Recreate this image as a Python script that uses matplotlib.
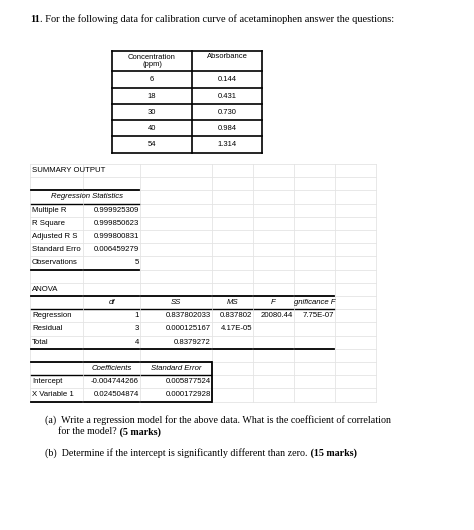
import matplotlib.pyplot as plt

conc = ["6", "18", "30", "40", "54"]
absorb = ["0.144", "0.431", "0.730", "0.984", "1.314"]

reg_labels = ["Multiple R", "R Square", "Adjusted R S", "Standard Erro", "Observations"]
reg_values = ["0.999925309", "0.999850623", "0.999800831", "0.006459279", "5"]

anova_cols = ["df", "SS", "MS", "F", "gnificance F"]
anova_rows = ["Regression", "Residual", "Total"]
anova_vals = [["1", "0.837802033", "0.837802", "20080.44", "7.75E-07"],
              ["3", "0.000125167", "4.17E-05", "", ""],
              ["4", "0.8379272", "", "", ""]]

coef_cols = ["Coefficients", "Standard Error"]
coef_rows = ["Intercept", "X Variable 1"]
coef_vals = [["-0.004744266", "0.005877524"], ["0.024504874", "0.000172928"]]

fig = plt.figure(figsize=(4.74, 5.30), dpi=100)
ax = fig.add_axes([0, 0, 1, 1])
ax.set_xlim(0, 474)
ax.set_ylim(530, 0)
ax.axis("off")

serif = "Liberation Serif"
sans = "Liberation Sans"


def after(prev, s, **kw):
    # place text right after a previous text
    return ax.annotate(s, xy=(1, 0.5), xycoords=prev, va="center", ha="left", **kw)


t = ax.text(30, 19, "11", fontsize=7.5, family=serif, weight="bold", va="center")
after(t, ". For the following data for calibration curve of acetaminophen answer the questions:",
      fontsize=7.5, family=serif)

# data table
tx = [112, 192, 262]
ty = [51, 71, 88, 104, 120, 136, 153]
for y in ty:
    ax.plot([tx[0], tx[2]], [y, y], color="k", lw=1.2)
for x in tx:
    ax.plot([x, x], [ty[0], ty[-1]], color="k", lw=1.2)
ax.text(152, 61, "Concentration\n(ppm)", ha="center", va="center", fontsize=5.5, family=sans, linespacing=0.9)
ax.text(227, 57, "Absorbance", ha="center", va="center", fontsize=5.5, family=sans)
for i in range(len(conc)):
    yc = (ty[i + 1] + ty[i + 2]) / 2
    ax.text(152, yc, conc[i], ha="center", va="center", fontsize=5.5, family=sans)
    ax.text(227, yc, absorb[i], ha="center", va="center", fontsize=5.5, family=sans)

# spreadsheet grid
gx = [30, 83, 140, 212, 253, 294, 335, 376]
row_h = 13.2
y0 = 164
nrows = 18
for i in range(nrows + 1):
    ax.plot([gx[0], gx[-1]], [y0 + i * row_h, y0 + i * row_h], color="#e4e4e4", lw=0.6)
for x in gx:
    ax.plot([x, x], [y0, y0 + nrows * row_h], color="#e4e4e4", lw=0.6)


def rc(r):
    return y0 + (r + 0.5) * row_h


def rt(r):
    return y0 + r * row_h


fs = 5.6
ax.text(32, rc(0), "SUMMARY OUTPUT", fontsize=fs, family=sans, va="center")


def hline(r, c0, c1, lw=1.3):
    for c in range(c0, c1):
        ax.plot([gx[c] + 1, gx[c + 1] - 1], [rt(r), rt(r)], color="k", lw=lw)


hline(2, 0, 2)
ax.text(87, rc(2), "Regression Statistics", fontsize=fs, family=sans, style="italic", ha="center", va="center")
hline(3, 0, 2, lw=1.0)
for i, (l, v) in enumerate(zip(reg_labels, reg_values)):
    ax.text(32, rc(3 + i), l, fontsize=fs, family=sans, va="center")
    ax.text(139, rc(3 + i), v, fontsize=fs, family=sans, va="center", ha="right")
hline(8, 0, 2)

ax.text(32, rc(9), "ANOVA", fontsize=fs, family=sans, va="center")
hline(10, 0, 6)
for j, c in enumerate(anova_cols):
    ax.text((gx[j + 1] + gx[j + 2]) / 2, rc(10), c, fontsize=fs, family=sans,
            style="italic", ha="center", va="center")
hline(11, 0, 6, lw=1.0)
for i, r in enumerate(anova_rows):
    ax.text(32, rc(11 + i), r, fontsize=fs, family=sans, va="center")
    for j, v in enumerate(anova_vals[i]):
        ax.text(gx[j + 2] - 1, rc(11 + i), v, fontsize=fs, family=sans, va="center", ha="right")
hline(14, 0, 6)

hline(15, 0, 3)
for j, c in enumerate(coef_cols):
    ax.text((gx[j + 1] + gx[j + 2]) / 2, rc(15), c, fontsize=fs, family=sans,
            style="italic", ha="center", va="center")
hline(16, 0, 3, lw=1.0)
for i, r in enumerate(coef_rows):
    ax.text(32, rc(16 + i), r, fontsize=fs, family=sans, va="center")
    for j, v in enumerate(coef_vals[i]):
        ax.text(gx[j + 2] - 1, rc(16 + i), v, fontsize=fs, family=sans, va="center", ha="right")
hline(18, 0, 3)
ax.plot([gx[3], gx[3]], [rt(15), rt(18)], color="k", lw=1.3)

qs = 7.2
ax.text(45, 420, "(a)  Write a regression model for the above data. What is the coefficient of correlation",
        fontsize=qs, family=serif, va="center")
t = ax.text(58, 432, "for the model?", fontsize=qs, family=serif, va="center")
after(t, " (5 marks)", fontsize=qs, family=serif, weight="bold")
t = ax.text(45, 453, "(b)  Determine if the intercept is significantly different than zero.",
            fontsize=qs, family=serif, va="center")
after(t, " (15 marks)", fontsize=qs, family=serif, weight="bold")

fig.savefig("out.png", dpi=100)
